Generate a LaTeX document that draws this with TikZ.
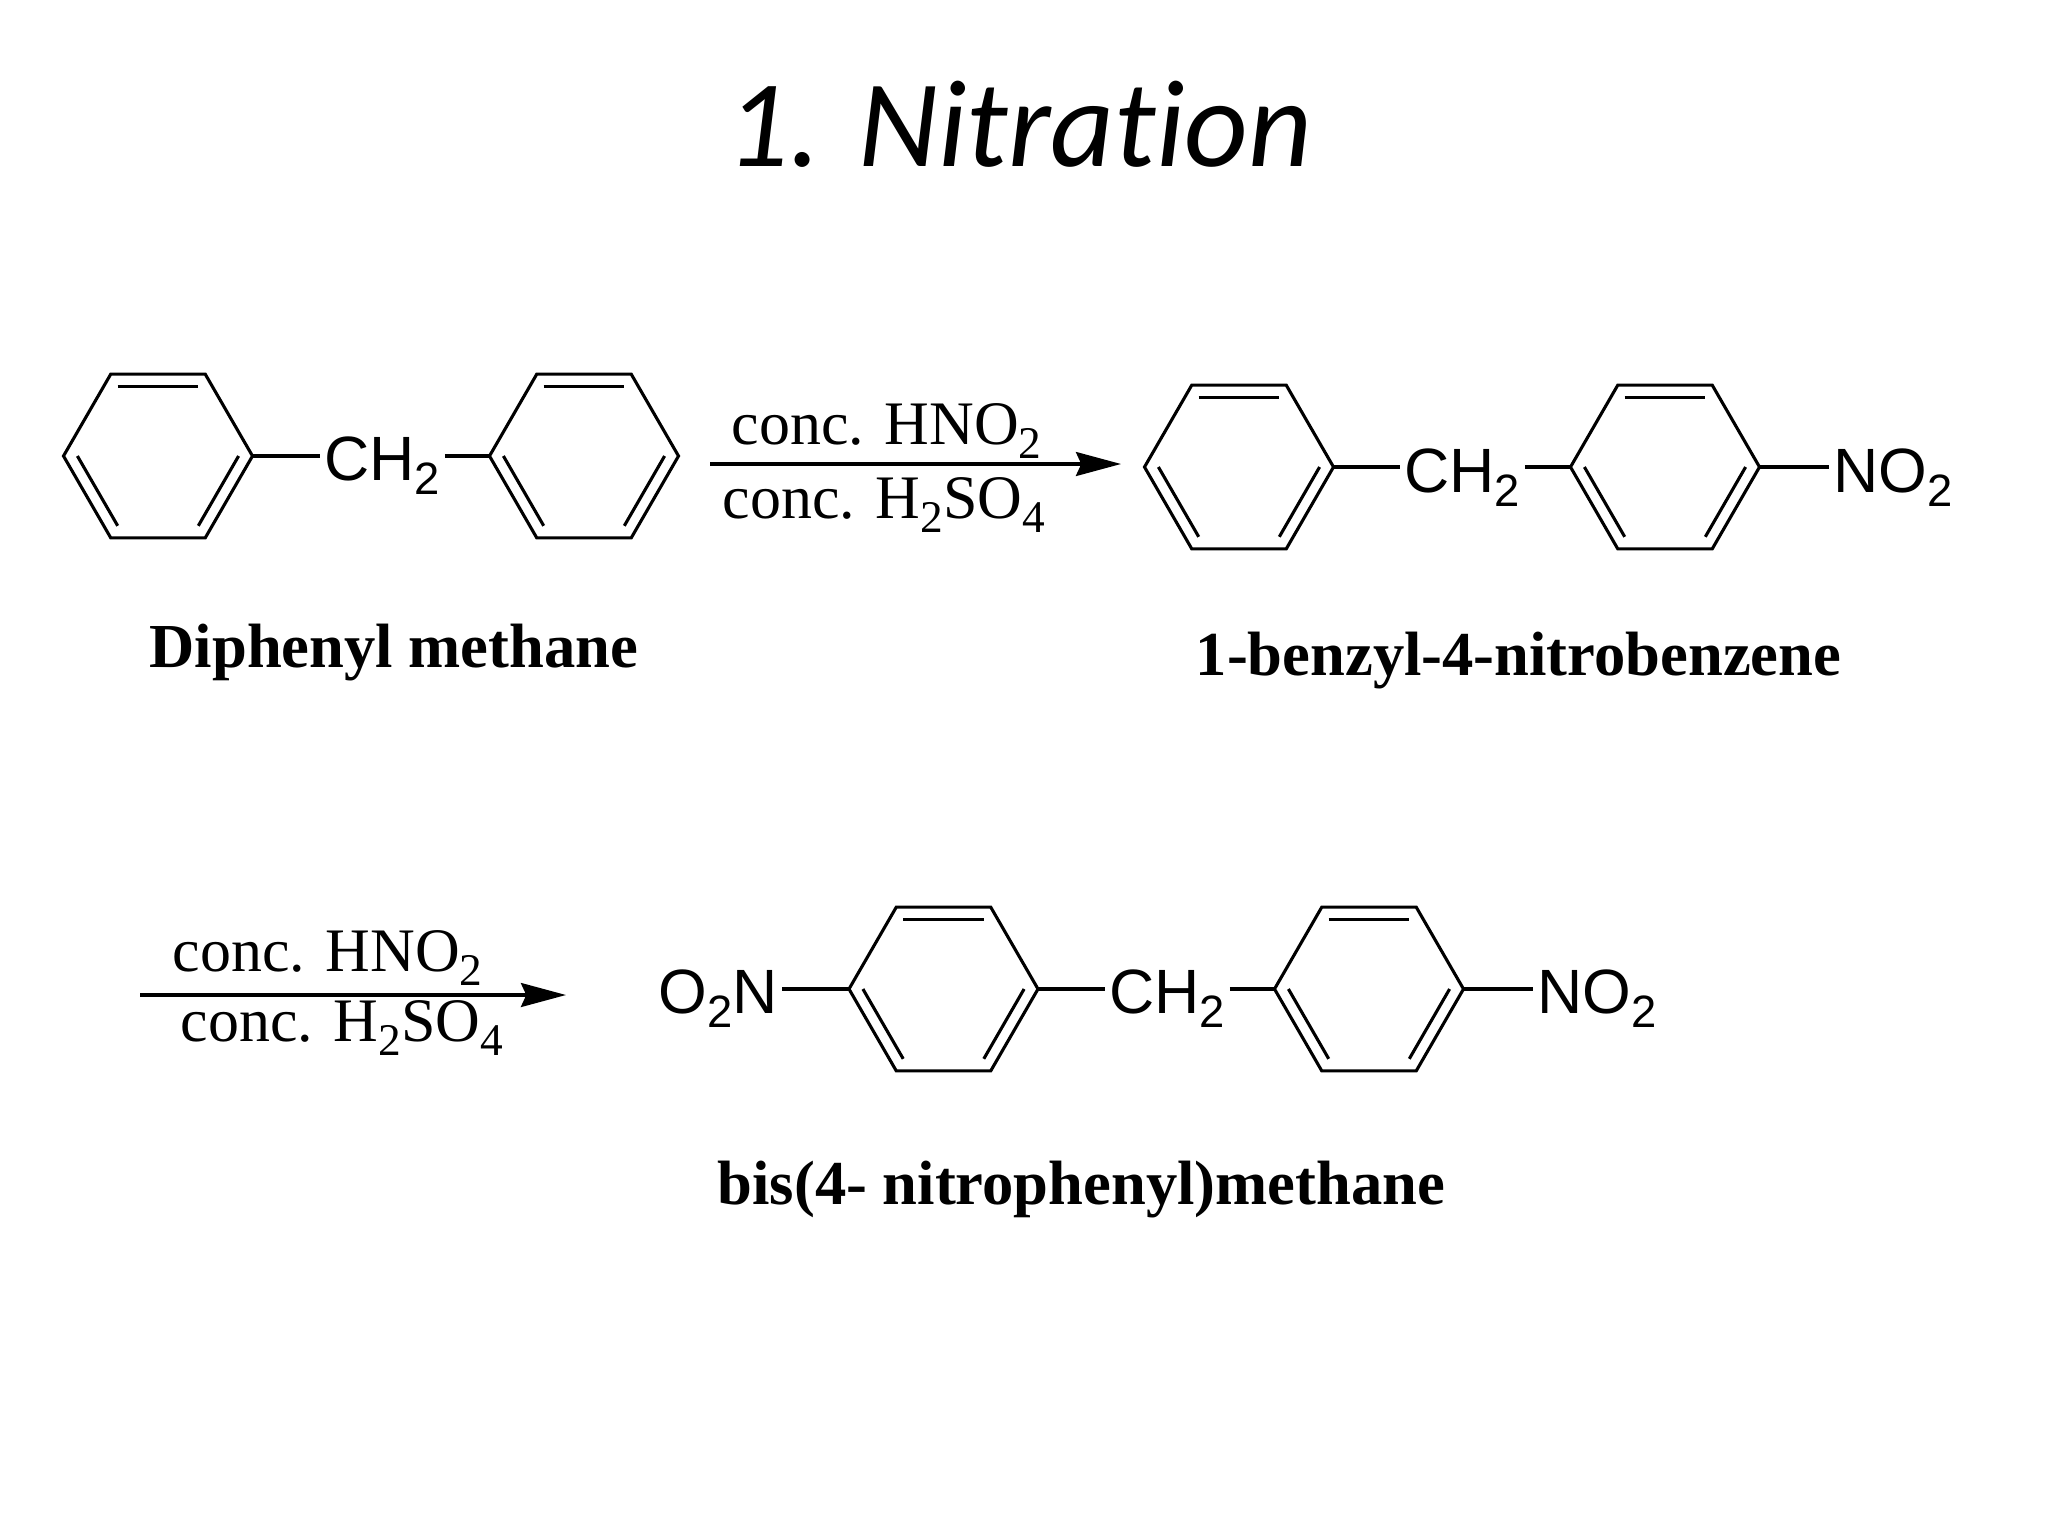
\documentclass[tikz,border=0pt]{standalone}
\usepackage{fontspec}
\setmainfont{Liberation Serif}
\setsansfont{Liberation Sans}
\newfontfamily\titlefont[Ligatures=NoCommon]{Carlito}
\usetikzlibrary{calc,arrows.meta}
\newcommand{\lowsub}[1]{\raisebox{-0.23em}{\fontsize{12.9}{12.9}\selectfont #1}}
\tikzset{
    bond/.style={line width=0.88pt},
    group/.style={anchor=base west, inner sep=1.1pt, font=\sffamily\fontsize{17.8}{20}\selectfont},
    reagent/.style={anchor=base west, inner sep=0pt, font=\fontsize{17.6}{20}\selectfont},
    compound/.style={anchor=base west, inner sep=0pt, font=\bfseries\fontsize{17.8}{20}\selectfont},
}
\begin{document}
\begin{tikzpicture}[x=0.01cm, y=-0.01cm, >={Stealth[length=12.8pt,width=6.8pt,inset=1.5pt]}]

    \useasboundingbox (0,0) rectangle (2048,1536);

    \node[anchor=base west, inner sep=0pt, font=\titlefont\itshape\fontsize{35.3}{40}\selectfont] (title) at (726,166) {1. Nitration};

    \foreach \rng/\cx/\cy in {R1/158/456, R2/584/456, R3/1239/467, R4/1665/467, R5/943.5/989, R6/1369/989} {
        \coordinate (\rng) at (\cx,\cy);
        \foreach \ang in {0,60,...,300} {
            \coordinate (\rng-\ang) at ($(\rng)+(\ang:94.5)$);
            \coordinate (\rng-in\ang) at ($(\rng)+(\ang:80.6)$);
        }
        \draw[bond] (\rng-0) -- (\rng-60) -- (\rng-120) -- (\rng-180) -- (\rng-240) -- (\rng-300) -- cycle;
        \draw[bond] (\rng-in240) -- (\rng-in300);
        \draw[bond] (\rng-in120) -- (\rng-in180);
        \draw[bond] (\rng-in0) -- (\rng-in60);
    }

    \node[group] (CH1) at (320,480) {CH\lowsub{2}};
    \node[group] (CH2) at (1400,492) {CH\lowsub{2}};
    \node[group] (CH3) at (1105,1013) {CH\lowsub{2}};
    \node[group] (NO1) at (1829,492) {NO\lowsub{2}};
    \node[group] (NO2) at (1533,1013) {NO\lowsub{2}};
    \node[group] (NO3) at (654,1013) {O\lowsub{2}N};

    \draw[bond] (R1-0) -- (R1-0 -| CH1.west);
    \draw[bond] (CH1.east |- R2-180) -- (R2-180);
    \draw[bond] (R3-0) -- (R3-0 -| CH2.west);
    \draw[bond] (CH2.east |- R4-180) -- (R4-180);
    \draw[bond] (R4-0) -- (R4-0 -| NO1.west);
    \draw[bond] (NO3.east |- R5-180) -- (R5-180);
    \draw[bond] (R5-0) -- (R5-0 -| CH3.west);
    \draw[bond] (CH3.east |- R6-180) -- (R6-180);
    \draw[bond] (R6-0) -- (R6-0 -| NO2.west);

    \coordinate (A1) at (710,464);
    \coordinate (B1) at (1121,464);
    \coordinate (A2) at (140,995);
    \coordinate (B2) at (566,995);

    \draw[->, line width=0.95pt] (A1) -- (B1);
    \draw[->, line width=0.95pt] (A2) -- (B2);

    \node[reagent] (top1) at (731,444) {conc. HNO\lowsub{2}};
    \node[reagent] (low1) at (722,518) {conc. H\lowsub{2}SO\lowsub{4}};
    \node[reagent] (top2) at (172,971) {conc. HNO\lowsub{2}};
    \node[reagent] (low2) at (180,1041) {conc. H\lowsub{2}SO\lowsub{4}};

    \node[compound] (name1) at (149,667) {Diphenyl methane};
    \node[compound] (name2) at (1195,675) {1-benzyl-4-nitrobenzene};
    \node[compound] (name3) at (717,1204) {bis(4- nitrophenyl)methane};

\end{tikzpicture}
\end{document}
